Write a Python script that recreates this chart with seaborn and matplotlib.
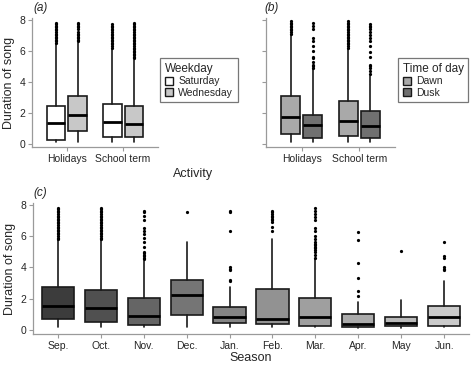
import matplotlib
matplotlib.use("Agg")
import matplotlib.pyplot as plt
import seaborn as sns
from matplotlib.patches import Patch

# -----------------------------
# Data
# -----------------------------

# (a) Activity x Weekday
activity = ["Holidays", "School term"]
weekday = ["Saturday", "Wednesday"]
weekday_colors = ["#ffffff", "#c8c8c8"]
# order: Holidays-Sat, Holidays-Wed, School-Sat, School-Wed
a_q1 = [0.28, 0.86, 0.43, 0.43]
a_med = [1.35, 1.85, 1.40, 1.30]
a_q3 = [2.42, 3.10, 2.58, 2.42]
a_lo = [0.10, 0.10, 0.10, 0.10]
a_hi = [6.40, 6.50, 6.10, 5.40]
a_fliers = [
    [6.5, 6.6, 6.7, 6.8, 6.9, 7.0, 7.1, 7.2, 7.3, 7.4, 7.5, 7.6, 7.7, 7.8],
    [6.6, 6.7, 6.8, 6.9, 7.0, 7.1, 7.2, 7.4, 7.5, 7.6, 7.7, 7.8],
    [6.2, 6.3, 6.4, 6.5, 6.6, 6.7, 6.8, 6.9, 7.0, 7.1, 7.2, 7.3, 7.4, 7.5, 7.6, 7.7],
    [5.5, 5.6, 5.7, 5.8, 5.9, 6.0, 6.1, 6.2, 6.3, 6.4, 6.5, 6.6, 6.7, 6.8, 6.9,
     7.0, 7.1, 7.2, 7.3, 7.4, 7.5, 7.6, 7.7, 7.8],
]

# (b) Activity x Time of day
time_of_day = ["Dawn", "Dusk"]
tod_colors = ["#a9a9a9", "#707070"]
b_q1 = [0.64, 0.36, 0.53, 0.36]
b_med = [1.71, 1.24, 1.49, 1.17]
b_q3 = [3.09, 1.88, 2.77, 2.13]
b_lo = [0.15, 0.15, 0.15, 0.15]
b_hi = [7.00, 4.80, 6.10, 4.40]
b_fliers = [
    [7.1, 7.2, 7.3, 7.4, 7.5, 7.6, 7.7, 7.8, 7.9],
    [4.9, 5.0, 5.1, 5.3, 5.5, 5.6, 6.0, 6.3, 6.6, 6.8, 7.4, 7.6, 7.8],
    [6.2, 6.3, 6.4, 6.5, 6.6, 6.7, 6.8, 6.9, 7.0, 7.1, 7.2, 7.3, 7.4, 7.5, 7.6,
     7.7, 7.8, 7.9],
    [4.5, 4.7, 4.9, 5.0, 5.1, 5.6, 5.9, 6.3, 6.6, 6.8, 7.0, 7.2, 7.4, 7.5, 7.6, 7.7],
]

# (c) Season (month)
months = ["Sep.", "Oct.", "Nov.", "Dec.", "Jan.", "Feb.", "Mar.", "Apr.", "May", "Jun."]
month_colors = ["#3c3c3c", "#505050", "#656565", "#757575", "#848484",
                "#929292", "#9f9f9f", "#ababab", "#bababa", "#cacaca"]
c_q1 = [0.70, 0.49, 0.32, 0.94, 0.43, 0.36, 0.28, 0.17, 0.23, 0.28]
c_med = [1.56, 1.41, 0.92, 2.24, 0.81, 0.72, 0.85, 0.38, 0.47, 0.83]
c_q3 = [2.73, 2.58, 2.03, 3.20, 1.49, 2.62, 2.07, 1.00, 0.83, 1.51]
c_lo = [0.20, 0.20, 0.20, 0.20, 0.20, 0.20, 0.20, 0.15, 0.15, 0.20]
c_hi = [5.75, 5.75, 4.40, 5.60, 2.77, 5.82, 4.50, 1.77, 1.92, 3.16]
c_fliers = [
    [5.8, 5.9, 6.0, 6.1, 6.2, 6.3, 6.4, 6.5, 6.6, 6.7, 6.8, 6.9, 7.0, 7.1, 7.2,
     7.3, 7.4, 7.5, 7.6, 7.7, 7.8],
    [5.8, 5.9, 6.0, 6.1, 6.2, 6.3, 6.4, 6.5, 6.6, 6.7, 6.8, 6.9, 7.0, 7.1, 7.2,
     7.3, 7.4, 7.5, 7.6, 7.7, 7.8],
    [4.5, 4.6, 4.7, 4.8, 4.9, 5.0, 5.3, 5.6, 5.9, 6.1, 6.3, 6.5, 7.0, 7.3, 7.5, 7.6],
    [7.5],
    [3.1, 3.2, 3.8, 3.9, 4.0, 6.3, 7.5, 7.6],
    [6.3, 6.6, 6.9, 7.0, 7.1, 7.2, 7.3, 7.4, 7.5, 7.6],
    [4.6, 4.8, 5.0, 5.1, 5.2, 5.3, 5.4, 5.5, 5.6, 5.8, 6.0, 6.3, 6.5, 7.0, 7.2,
     7.4, 7.6, 7.8],
    [2.17, 2.49, 3.33, 4.26, 5.74, 6.23],
    [5.03],
    [3.84, 3.92, 4.0, 4.58, 4.69, 5.6],
]

# -----------------------------
# Style
# -----------------------------

sns.set_theme(style="white")
plt.rcParams["font.family"] = ["Liberation Sans", "DejaVu Sans"]

W, H = 474, 365
fig = plt.figure(figsize=(W / 100, H / 100), dpi=100)


def px_axes(left, top, right, bottom):
    return fig.add_axes([left / W, 1 - bottom / H, (right - left) / W, (bottom - top) / H])


def draw_boxes(ax, q1, med, q3, lo, hi, fliers, positions, colors, width):
    stats = []
    for i in range(len(q1)):
        stats.append({"q1": q1[i], "med": med[i], "q3": q3[i],
                      "whislo": lo[i], "whishi": hi[i], "fliers": fliers[i]})
    bp = ax.bxp(
        stats,
        positions=positions,
        widths=width,
        patch_artist=True,
        showcaps=False,
        boxprops=dict(edgecolor="#1a1a1a", linewidth=1.2),
        whiskerprops=dict(color="#1a1a1a", linewidth=1.2),
        medianprops=dict(color="black", linewidth=2.0),
        flierprops=dict(marker="o", markersize=1.3, markerfacecolor="black",
                        markeredgecolor="black", linestyle="none"),
    )
    for patch, col in zip(bp["boxes"], colors):
        patch.set_facecolor(col)


def style_axes(ax, xticklabels, show_ylabels=True):
    sns.despine(ax=ax)
    for side in ["left", "bottom"]:
        ax.spines[side].set_color("#9a9a9a")
        ax.spines[side].set_linewidth(0.9)
    ax.tick_params(axis="both", which="both", length=3, width=0.8, color="#9a9a9a",
                   labelsize=7.5, pad=2, left=True, bottom=True)
    ax.set_yticks([0, 2, 4, 6, 8])
    if not show_ylabels:
        ax.set_yticklabels([])
    ax.set_xticks(range(len(xticklabels)))
    ax.set_xticklabels(xticklabels)
    ax.grid(False)


def add_legend(ax, labels, colors, title, x_anchor):
    leg = ax.legend(
        handles=[Patch(facecolor=c, edgecolor="#1a1a1a", label=l)
                 for l, c in zip(labels, colors)],
        title=title, fontsize=7.5, title_fontsize=8.5,
        loc="upper left", bbox_to_anchor=(x_anchor, 0.69), borderaxespad=0,
        frameon=True, handlelength=0.8, handleheight=0.8, handletextpad=0.5,
        labelspacing=0.15, borderpad=0.45, fancybox=False,
    )
    leg._legend_box.align = "left"
    leg.get_frame().set_edgecolor("#555555")
    leg.get_frame().set_linewidth(0.9)


# -----------------------------
# Panel (a)
# -----------------------------

ax_a = px_axes(32, 18, 158, 147)
off = 0.19
pos = [0 - off, 0 + off, 1 - off, 1 + off]
draw_boxes(ax_a, a_q1, a_med, a_q3, a_lo, a_hi, a_fliers, pos,
           weekday_colors * 2, 0.33)
ax_a.set_xlim(-0.62, 1.62)
ax_a.set_ylim(-0.2, 8.1)
style_axes(ax_a, activity)
ax_a.set_ylabel("Duration of song", fontsize=9, labelpad=3)
add_legend(ax_a, weekday, weekday_colors, "Weekday", 1.016)
fig.text(33 / W, 1 - 8 / H, "(a)", fontsize=8.5, style="italic", va="center")

# -----------------------------
# Panel (b)
# -----------------------------

ax_b = px_axes(266, 18, 395, 147)
draw_boxes(ax_b, b_q1, b_med, b_q3, b_lo, b_hi, b_fliers, pos,
           tod_colors * 2, 0.33)
ax_b.set_xlim(-0.62, 1.62)
ax_b.set_ylim(-0.2, 8.1)
style_axes(ax_b, activity, show_ylabels=False)
add_legend(ax_b, time_of_day, tod_colors, "Time of day", 1.023)
fig.text(264 / W, 1 - 8 / H, "(b)", fontsize=8.5, style="italic", va="center")

fig.text(193 / W, 1 - 174 / H, "Activity", fontsize=9, ha="center", va="center")

# -----------------------------
# Panel (c)
# -----------------------------

ax_c = px_axes(33, 203, 469, 334)
draw_boxes(ax_c, c_q1, c_med, c_q3, c_lo, c_hi, c_fliers,
           list(range(len(months))), month_colors, 0.75)
ax_c.set_xlim(-0.58, 9.58)
ax_c.set_ylim(-0.25, 8.1)
style_axes(ax_c, months)
ax_c.set_ylabel("Duration of song", fontsize=9, labelpad=3)
ax_c.set_xlabel("Season", fontsize=9, labelpad=1)
fig.text(33 / W, 1 - 193 / H, "(c)", fontsize=8.5, style="italic", va="center")

plt.savefig("out.png", dpi=100)
